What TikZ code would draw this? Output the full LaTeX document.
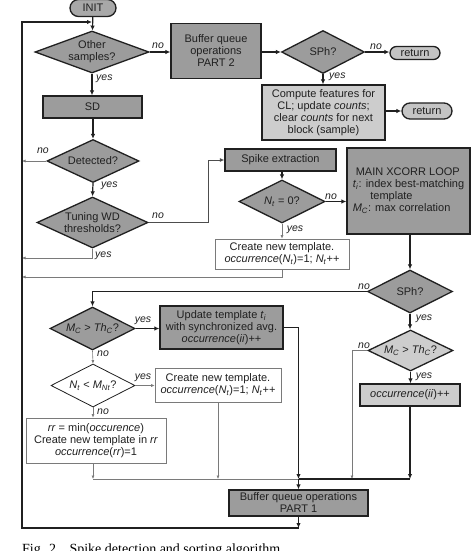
\documentclass[tikz,border=0pt]{standalone}
\usepackage{fontspec}
\setmainfont{Liberation Sans}
\newfontfamily\capfont{Liberation Serif}
\usetikzlibrary{arrows.meta,shapes.geometric}
\newcommand{\isub}[2]{\textit{#1}\textsubscript{\textit{#2}}}
\definecolor{edge}{HTML}{202020}
\definecolor{darkf}{HTML}{9C9C9C}
\definecolor{lightf}{HTML}{CDCDCD}
\definecolor{initf}{HTML}{A8A8A8}
\definecolor{retf}{HTML}{C4C4C4}
\definecolor{thinc}{HTML}{7A7A7A}
\begin{document}
\begin{tikzpicture}[x=1pt,y=-1pt,
  base/.style={font=\fontsize{11}{12}\selectfont, align=center, inner sep=0pt, text=edge},
  dbox/.style={base, rectangle, draw=edge, line width=1.3pt, fill=darkf},
  lbox/.style={base, rectangle, draw=edge, line width=1.3pt, fill=lightf},
  wbox/.style={base, rectangle, draw=thinc, line width=0.7pt, fill=white},
  ddia/.style={diamond, draw=edge, line width=1.3pt, fill=darkf, inner sep=0pt},
  ldia/.style={diamond, draw=edge, line width=1.3pt, fill=lightf, inner sep=0pt},
  wdia/.style={diamond, draw=edge, line width=0.8pt, fill=white, inner sep=0pt},
  term/.style={base, rectangle, draw=edge, line width=1.3pt},
  lab/.style={font=\fontsize{10.5}{12}\selectfont\itshape, inner sep=0pt, text=edge},
  thk/.style={draw=edge, line width=1.2pt, -{Latex[length=5pt,width=4.5pt]}},
  thkn/.style={draw=edge, line width=1.2pt},
  med/.style={draw=edge!80, line width=0.9pt, -{Latex[length=4.5pt,width=4pt]}},
  thn/.style={draw=thinc, line width=0.6pt, -{Latex[length=3.5pt,width=3pt]}},
  thnn/.style={draw=thinc, line width=0.6pt}]
\fill[white] (0,0) rectangle (474,551);
\useasboundingbox (0,0) rectangle (474,551);

% nodes
\node[term, fill=initf, minimum width=46pt, minimum height=17pt, rounded corners=8.5pt] (init) at (93,8) {INIT};
\node[ddia, minimum width=114pt, minimum height=42pt] (d1) at (92,52) {};
\node[base] (d1t) at (92,52) {Other\\samples?};
\node[dbox, minimum width=90pt, minimum height=55pt] (buf2) at (216,51) {Buffer queue\\operations\\PART 2};
\node[ddia, minimum width=83pt, minimum height=43pt] (sph1) at (323,52) {};
\node[base] (sph1t) at (323,52) {SPh?};
\node[term, fill=retf, minimum width=50pt, minimum height=13pt, rounded corners=6.5pt] (ret1) at (415,53) {return};
\node[lbox, minimum width=123pt, minimum height=55pt] (comp) at (323.5,112.5) {Compute features for\\CL; update \textit{counts};\\clear \textit{counts} for next\\block (sample)};
\node[term, fill=retf, minimum width=50pt, minimum height=16pt, rounded corners=8pt] (ret2) at (427,111) {return};
\node[dbox, minimum width=99pt, minimum height=22pt] (sd) at (92.5,107) {SD};
\node[ddia, minimum width=92pt, minimum height=43pt] (det) at (93,161) {};
\node[base] (dett) at (93,161) {Detected?};
\node[ddia, minimum width=111pt, minimum height=51pt] (tun) at (92.5,222.5) {};
\node[base] (tunt) at (92.5,222.5) {Tuning WD\\thresholds?};
\node[dbox, minimum width=111pt, minimum height=22pt] (spk) at (280.5,160) {Spike extraction};
\node[ddia, minimum width=86pt, minimum height=43pt] (nt0) at (282,201.5) {};
\node[base] (nt0t) at (282,201.5) {\isub{N}{t} = 0?};
\node[dbox, minimum width=123pt, minimum height=86pt, align=left] (main) at (408.5,191) {\hspace*{3pt}MAIN XCORR LOOP\\\isub{t}{i}: index best-matching\\\hspace*{1.6em}template\\\isub{M}{C}: max correlation};
\node[wbox, minimum width=134pt, minimum height=30pt] (cr1) at (282,254) {Create new template.\\\textit{occurrence}(\isub{N}{t})=1; \isub{N}{t}++};
\node[ddia, minimum width=85pt, minimum height=43pt] (sph2) at (410,291.5) {};
\node[base] (sph2t) at (410,291.5) {SPh?};
\node[ddia, minimum width=85pt, minimum height=43pt] (mc1) at (92.5,328.5) {};
\node[base] (mc1t) at (92.5,328.5) {\isub{M}{C} > \isub{Th}{C}?};
\node[dbox, minimum width=123pt, minimum height=43pt] (upd) at (221.5,327.5) {Update template \isub{t}{i}\\with synchronized avg.\\\textit{occurrence}(\textit{ii})++};
\node[wdia, minimum width=84pt, minimum height=43pt] (ntm) at (93,385.5) {};
\node[base] (ntmt) at (93,385.5) {\isub{N}{t} < \isub{M}{Nt}?};
\node[wbox, minimum width=126pt, minimum height=34pt] (cr2) at (218,385) {Create new template.\\\textit{occurrence}(\isub{N}{t})=1; \isub{N}{t}++};
\node[wbox, minimum width=140pt, minimum height=45pt] (rr) at (96,440.5) {\textit{rr} = min(\textit{occurence})\\Create new template in \textit{rr}\\\textit{occurrence}(\textit{rr})=1};
\node[ldia, minimum width=85pt, minimum height=41pt] (mc2) at (410.5,350.5) {};
\node[base] (mc2t) at (410.5,350.5) {\isub{M}{C} > \isub{Th}{C}?};
\node[lbox, minimum width=100pt, minimum height=22pt] (occ) at (410,395) {\textit{occurrence}(\textit{ii})++};
\node[dbox, minimum width=139pt, minimum height=26pt] (buf1) at (298.5,503) {Buffer queue operations\\PART 1};

% caption (cut by page edge)
\node[font=\capfont\fontsize{14}{16}\selectfont, anchor=base west, inner sep=0pt] (cap) at (22,553.5) {Fig. 2.\hspace{10pt}Spike detection and sorting algorithm};

% helper coordinates
\coordinate (lx) at (22,0);
\coordinate (entry) at (92,22);
\coordinate (cTL) at (22,22);
\coordinate (cBL) at (22,528);
\coordinate (jy) at (0,479);
\coordinate (ty) at (0,258);
\coordinate (cy) at (0,277);
\coordinate (tk) at (208,0);
\coordinate (nx) at (352,0);
\coordinate (jm) at (buf1.north |- jy);
\coordinate (bot) at (buf1.south |- cBL);

% connectors
\draw[thk] (init) -- (d1);
\draw[thk] (d1.east) -- (d1.east -| buf2.west);
\draw[thk] (sph1.west -| buf2.east) -- (sph1.west);
\draw[thk] (sph1.east) -- (sph1.east -| ret1.west);
\draw[thk] (sph1.south) -- (sph1.south |- comp.north);
\draw[thk] (ret2.west -| comp.east) -- (ret2.west);
\draw[thk] (d1.south) -- (d1.south |- sd.north);
\draw[thk] (det.north |- sd.south) -- (det.north);
\draw[thn] (det.west) -- (det.west -| lx);
\draw[thk] (det.south) -- (tun.north);
\draw[med] (tun.east) -- (tun.east -| tk) -- (spk.west -| tk) -- (spk.west);
\draw[thn] (tun.south) -- (tun.south |- ty) -- (lx |- ty);
\draw[thn] (cr1.south) -- (cr1.south |- cy) -- (lx |- cy);
\draw[thk] (nt0.north |- spk.south) -- (nt0.north);
\draw[thk] (nt0.east) -- (nt0.east -| main.west);
\draw[thn] (nt0.south) -- (cr1.north);
\draw[thk] (sph2.north |- main.south) -- (sph2.north);
\draw[thk] (sph2.west) -- (sph2.west -| mc1.north) -- (mc1.north);
\draw[thk] (mc1.east) -- (mc1.east -| upd.west);
\draw[thk] (upd.east) -- (upd.east -| jm) -- (jm);
\draw[thn] (mc1.south) -- (ntm.north);
\draw[thn] (ntm.east) -- (ntm.east -| cr2.west);
\draw[thn] (ntm.south) -- (ntm.south |- rr.north);
\draw[thn] (cr2.south) -- (cr2.south |- jy);
\draw[thn] (ntm.south |- rr.south) -- (ntm.south |- jy);
\draw[thk] (sph2.south) -- (sph2.south |- mc2.north);
\draw[thn] (mc2.west) -- (mc2.west -| nx) -- (nx |- jy);
\draw[thk] (mc2.south) -- (mc2.south |- occ.north);
\draw[thk] (occ.south) -- (occ.south |- jy);
\draw[thnn] (ntm.south |- jy) -- (jm);
\draw[thkn] (jm) -- (occ.south |- jy);
\draw[thk] (jm) -- (buf1.north);
\draw[thk] (buf1.south) -- (bot);
\draw[thk] (bot) -- (cBL) -- (cTL) -- (entry);

% labels
\node[lab] (l1) at (158,46) {no};
\node[lab, anchor=west] (l2) at (96,79) {yes};
\node[lab] (l3) at (376,47) {no};
\node[lab, anchor=west] (l4) at (329,77) {yes};
\node[lab] (l5) at (43,151) {no};
\node[lab, anchor=west] (l6) at (101,186) {yes};
\node[lab] (l7) at (158,216) {no};
\node[lab, anchor=west] (l8) at (95,256) {yes};
\node[lab] (l9) at (331,197) {no};
\node[lab] (l10) at (295,230) {yes};
\node[lab] (l11) at (364,287) {no};
\node[lab] (l12) at (424,319) {yes};
\node[lab] (l13) at (364,346) {no};
\node[lab] (l14) at (424,377) {yes};
\node[lab] (l15) at (143,321) {yes};
\node[lab] (l16) at (103,354) {no};
\node[lab] (l17) at (143,378) {yes};
\node[lab] (l18) at (103,412) {no};
\end{tikzpicture}
\end{document}
